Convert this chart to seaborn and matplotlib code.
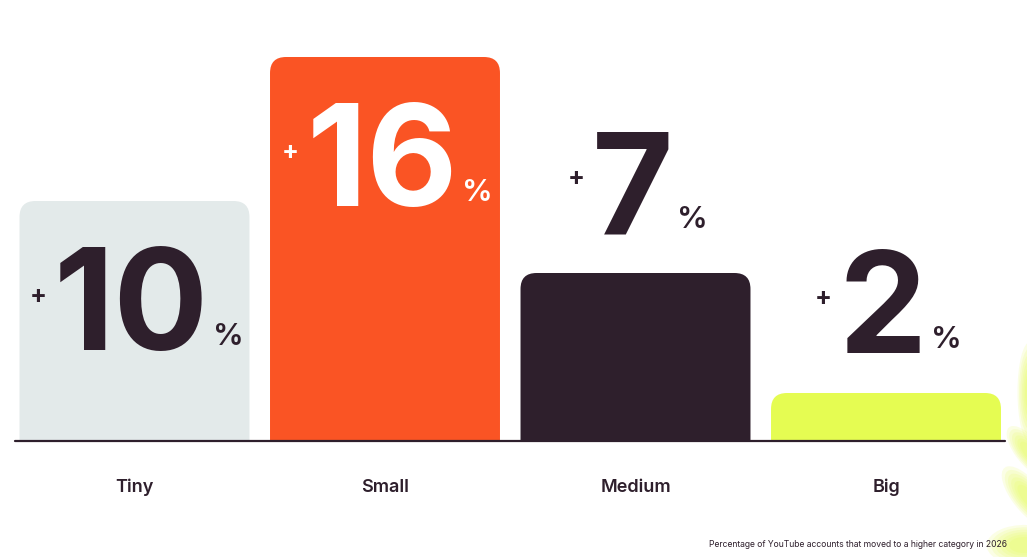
import matplotlib
matplotlib.use("Agg")
import matplotlib.pyplot as plt
import matplotlib.transforms as mtransforms
from matplotlib.patches import FancyBboxPatch, Ellipse
import seaborn as sns
import pandas as pd

# ---- data ----
categories = ["Tiny", "Small", "Medium", "Big"]
values = [10, 16, 7, 2]
bar_colors = ["#E3EAEA", "#FA5424", "#2E1F2C", "#E5FC52"]
text_colors = ["#2E1F2C", "#FFFFFF", "#2E1F2C", "#2E1F2C"]
footnote = "Percentage of YouTube accounts that moved to a higher category in 2026"

DARK = "#2E1F2C"

sns.set_theme(style="white")
plt.rcParams["font.family"] = ["Inter", "DejaVu Sans"]

W, H = 1027, 557
fig = plt.figure(figsize=(W / 100, H / 100), dpi=100)
fig.patch.set_facecolor("white")
ax = fig.add_axes([15 / W, 116 / H, 990 / W, 384 / H])
ax.set_facecolor("none")

df = pd.DataFrame({"category": categories, "value": values})
sns.barplot(data=df, x="category", y="value", hue="category",
            palette=bar_colors, width=0.918, saturation=1,
            legend=False, ax=ax)
ax.set_xlim(-0.477, 3.475)
ax.set_ylim(0, 16)

# replace bars with top-rounded bars
px_per_x = 990 / (3.475 + 0.477)
px_per_y = 384 / 16
radius_px = 16
r = radius_px / px_per_x
asp = (radius_px / px_per_y) / r
bars = list(ax.patches)
for p in bars:
    x, w, h = p.get_x(), p.get_width(), p.get_height()
    fc = p.get_facecolor()
    p.set_visible(False)
    fb = FancyBboxPatch((x, -2), w, h + 2,
                        boxstyle=f"round,pad=0,rounding_size={r}",
                        mutation_aspect=asp, fc=fc, ec="none", zorder=2)
    ax.add_patch(fb)

ax.axhline(0, color=DARK, lw=1.6, zorder=3, clip_on=False)

for s in ax.spines.values():
    s.set_visible(False)
ax.set_yticks([])
ax.set_xlabel("")
ax.set_ylabel("")
ax.tick_params(axis="x", length=0, pad=27, labelsize=13, colors=DARK)
for lab in ax.get_xticklabels():
    lab.set_fontweight("semibold")
    lab.set_color(DARK)

# big value labels
num_px = 109          # digit height in px
margin_px = 40
num_texts = []
for p, v, tc in zip(bars, values, text_colors):
    cx = p.get_x() + p.get_width() / 2
    h = p.get_height()
    inside = h * px_per_y > num_px + 2 * margin_px
    if inside:
        base = h - (num_px + margin_px) / px_per_y
    else:
        base = h + margin_px / px_per_y
    tr = mtransforms.offset_copy(ax.transData, fig=fig, x=-3, y=0, units="dots")
    t = ax.text(cx, base, f"{v:g}", transform=tr, ha="center", va="baseline",
                fontsize=101, fontweight="bold", color=tc, zorder=4,
                clip_on=False)
    num_texts.append((t, tc))

fig.canvas.draw()
renderer = fig.canvas.get_renderer()
ident = mtransforms.IdentityTransform()
for t, tc in num_texts:
    bb = t.get_window_extent(renderer)
    base_disp = t.get_transform().transform(t.get_position())[1]
    fig.text(bb.x0 - 16, base_disp + 54, "+", transform=ident,
             ha="center", va="center", fontsize=18, fontweight="bold",
             color=tc, zorder=5)
    fig.text(bb.x1 + 4, base_disp + 5, "%", transform=ident,
             ha="left", va="baseline", fontsize=22, fontweight="semibold",
             color=tc, zorder=5)

# footnote
fig.text(1007 / W, (H - 547) / H, footnote, ha="right", va="baseline",
         fontsize=6.2, color=DARK)

# decorative lime glows on the right edge
for (ex, ey, ew, eh, ang) in [(1030, 392, 10, 40, 0), (1029, 452, 12, 22, 20),
                               (1028, 497, 14, 26, 20), (1024, 545, 30, 16, 30)]:
    for k in range(6):
        s = 1 + k * 0.3
        e = Ellipse((ex / W, (H - ey) / H), ew * s / W, eh * s / H, angle=ang,
                    transform=fig.transFigure, fc="#E5FC52", ec="none",
                    alpha=0.15, zorder=0)
        fig.patches.append(e)

fig.savefig("out.png", dpi=100)
